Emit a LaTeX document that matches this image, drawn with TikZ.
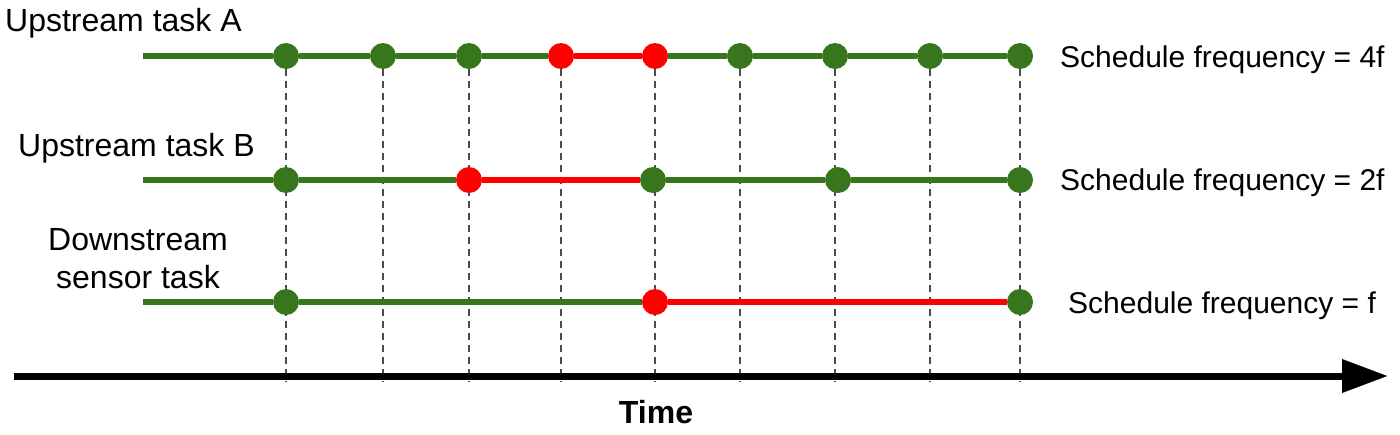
\documentclass[tikz,border=0pt]{standalone}
\usepackage{fontspec}
\setmainfont{Liberation Sans}
\usetikzlibrary{arrows.meta,backgrounds,positioning}
\definecolor{okgreen}{HTML}{38761D}
\definecolor{lagred}{HTML}{FF0000}
\tikzset{
    ok/.style={
        circle,
        fill=okgreen,
        inner sep=0pt,
        minimum size=26pt,
    },
    late/.style={
        circle,
        fill=lagred,
        inner sep=0pt,
        minimum size=26pt,
    },
    okline/.style={draw=okgreen, line width=5.5pt},
    lateline/.style={draw=lagred, line width=5.5pt},
    tick/.style={draw=black!70, line width=1.3pt, dash pattern=on 7pt off 5pt},
    tasktext/.style={font=\fontsize{32}{38}\selectfont, inner sep=0pt},
    freqtext/.style={font=\fontsize{30}{34}\selectfont, inner sep=0pt, anchor=base west},
}

\begin{document}
\begin{tikzpicture}[x=1pt,y=-1pt]
    \useasboundingbox (0,0) rectangle (1400,434);

    % upstream task A
    \coordinate (a0) at (143,56);
    \node [ok]   (a1) at (286,56) {};
    \node [ok]   (a2) at (383,56) {};
    \node [ok]   (a3) at (469,56) {};
    \node [late] (a4) at (561,56) {};
    \node [late] (a5) at (655,56) {};
    \node [ok]   (a6) at (740,56) {};
    \node [ok]   (a7) at (835,56) {};
    \node [ok]   (a8) at (930,56) {};
    \node [ok]   (a9) at (1020,56) {};

    % upstream task B
    \coordinate (b0) at (143,180);
    \node [ok]   (b1) at (286,180) {};
    \node [late] (b2) at (469,180) {};
    \node [ok]   (b3) at (653,180) {};
    \node [ok]   (b4) at (838,180) {};
    \node [ok]   (b5) at (1020,180) {};

    % downstream sensor task
    \coordinate (c0) at (143,302);
    \node [ok]   (c1) at (286,302) {};
    \node [late] (c2) at (655,302) {};
    \node [ok]   (c3) at (1020,302) {};

    % time axis
    \coordinate (t0) at (14,376);
    \coordinate (t1) at (1388,376);
    \coordinate (tickend) at (0,382);

    \begin{scope}[on background layer]
        \foreach \n in {a1,a2,a3,a4,a5,a6,a7,a8,a9}
            \draw [tick] (\n) -- (\n |- tickend);
        \draw [okline] (a0) -- (a1) -- (a2) -- (a3) -- (a4);
        \draw [lateline] (a4) -- (a5);
        \draw [okline] (a5) -- (a6) -- (a7) -- (a8) -- (a9);
        \draw [okline] (b0) -- (b1) -- (b2);
        \draw [lateline] (b2) -- (b3);
        \draw [okline] (b3) -- (b4) -- (b5);
        \draw [okline] (c0) -- (c1) -- (c2);
        \draw [lateline] (c2) -- (c3);
    \end{scope}
    \draw [line width=7pt, -{Triangle[length=46pt,width=32pt]}] (t0) -- (t1);

    % labels
    \node [tasktext, anchor=base west] (taskA) at (5,31) {Upstream task A};
    \node [tasktext, anchor=base west] (taskB) at (18,156) {Upstream task B};
    \node [tasktext, align=center, anchor=base] (taskC) at (138,288) {Downstream\\sensor task};
    \node [freqtext] (freqA) at (1060,67) {Schedule frequency = 4f};
    \node [freqtext] (freqB) at (1060,190) {Schedule frequency = 2f};
    \node [freqtext] (freqC) at (1068,313) {Schedule frequency = f};
    \node [tasktext, font=\fontsize{32}{36}\selectfont\bfseries, anchor=base] (time) at (656,423) {Time};
\end{tikzpicture}
\end{document}
